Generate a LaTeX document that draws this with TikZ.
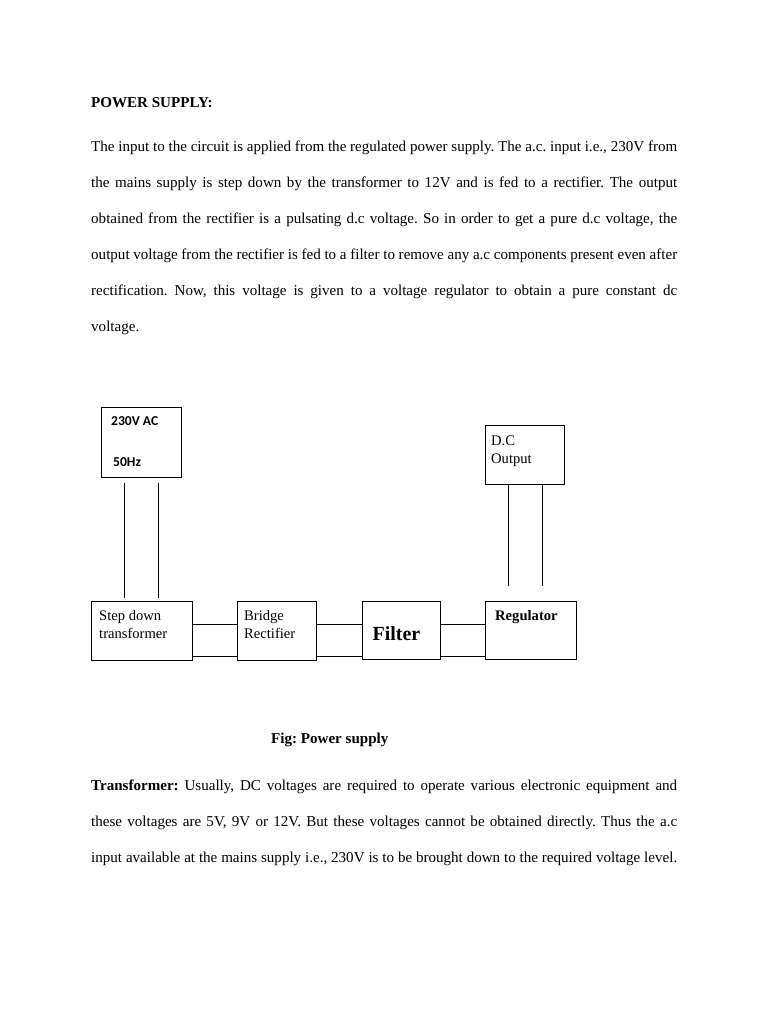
\documentclass[tikz,border=0pt]{standalone}
\usepackage{fontspec}
\setmainfont{Liberation Serif}
\newfontfamily\calfont{Carlito}
\usetikzlibrary{calc}
\frenchspacing
\tikzset{
  box/.style={draw, line width=0.9pt, inner sep=0pt, anchor=north west},
  wire/.style={line width=0.9pt},
  body/.style={anchor=base west, inner sep=0pt, font=\fontsize{15.06}{18}\selectfont},
  lbl/.style={anchor=base west, inner sep=0pt, font=\fontsize{14.6}{17}\selectfont},
  callbl/.style={anchor=base west, inner sep=0pt, font=\calfont\bfseries\fontsize{13.6}{16}\selectfont},
}
\newcommand{\jline}[1]{\makebox[586pt][s]{#1}}
\begin{document}
\begin{tikzpicture}[x=1pt,y=-1pt]
\useasboundingbox[fill=white] (0,0) rectangle (768,1024);

% heading and first paragraph
\node[body, font=\bfseries\fontsize{15.06}{18}\selectfont] (head) at (91,108) {POWER SUPPLY:};
\node[body] (p1) at (91,152) {\jline{The input to the circuit is applied from the regulated power supply. The a.c. input i.e., 230V from}};
\node[body] (p2) at (91,188) {\jline{the mains supply is step down by the transformer to 12V and is fed to a rectifier. The output}};
\node[body] (p3) at (91,224) {\jline{obtained from the rectifier is a pulsating d.c voltage. So in order to get a pure d.c voltage, the}};
\node[body] (p4) at (91,259) {\jline{output voltage from the rectifier is fed to a filter to remove any a.c components present even after}};
\node[body] (p5) at (91,295) {\jline{rectification. Now, this voltage is given to a voltage regulator to obtain a pure constant dc}};
\node[body] (p6) at (91,331) {voltage.};

% boxes
\node[box, minimum width=80pt, minimum height=70pt] (ac) at (101,407) {};
\node[box, minimum width=79pt, minimum height=59pt] (dc) at (485,425) {};
\node[box, minimum width=101pt, minimum height=59pt] (sd) at (91,601) {};
\node[box, minimum width=79pt, minimum height=59pt] (br) at (237,601) {};
\node[box, minimum width=78pt, minimum height=58pt] (fl) at (362,601) {};
\node[box, minimum width=91pt, minimum height=58pt] (rg) at (485,601) {};

% labels
\node[callbl] (acl1) at ($(ac.north west)+(10,18)$) {230V AC};
\node[callbl] (acl2) at ($(ac.north west)+(12,59)$) {50Hz};
\node[lbl] (dcl1) at ($(dc.north west)+(6,20)$) {D.C};
\node[lbl] (dcl2) at ($(dc.north west)+(6,38)$) {Output};
\node[lbl] (sdl1) at ($(sd.north west)+(8,19)$) {Step down};
\node[lbl] (sdl2) at ($(sd.north west)+(8,37)$) {transformer};
\node[lbl] (brl1) at ($(br.north west)+(7,19)$) {Bridge};
\node[lbl] (brl2) at ($(br.north west)+(7,37)$) {Rectifier};
\node[anchor=center, inner sep=0pt, font=\bfseries\fontsize{20}{24}\selectfont] (fll) at ($(fl.center)+(-5,3)$) {Filter};
\node[anchor=base west, inner sep=0pt, font=\bfseries\fontsize{14.6}{17}\selectfont] (rgl) at ($(rg.north west)+(10,19)$) {Regulator};

% connectors
\coordinate (ya) at (0,624);
\coordinate (yb) at (0,656);
\foreach \a/\b in {sd/br, br/fl, fl/rg} {
  \draw[wire] (\a.east |- ya) -- (\b.west |- ya);
  \draw[wire] (\a.east |- yb) -- (\b.west |- yb);
}
\coordinate (ac1) at ($(ac.south west)+(23,5)$);
\coordinate (ac2) at ($(ac.south west)+(57,5)$);
\draw[wire] (ac1) -- (ac1 |- 0,598);
\draw[wire] (ac2) -- (ac2 |- 0,598);
\coordinate (dc1) at ($(dc.south west)+(23,0)$);
\coordinate (dc2) at ($(dc.south west)+(57,0)$);
\draw[wire] (dc1) -- (dc1 |- 0,586);
\draw[wire] (dc2) -- (dc2 |- 0,586);

% caption
\node[body, font=\bfseries\fontsize{15.06}{18}\selectfont] (cap) at (271,743) {Fig: Power supply};

% transformer paragraph
\node[body] (t1) at (91,790) {\jline{\textbf{Transformer:} Usually, DC voltages are required to operate various electronic equipment and}};
\node[body] (t2) at (91,826) {\jline{these voltages are 5V, 9V or 12V. But these voltages cannot be obtained directly. Thus the a.c}};
\node[body] (t3) at (91,862) {\jline{input available at the mains supply i.e., 230V is to be brought down to the required voltage level.}};
\end{tikzpicture}
\end{document}
